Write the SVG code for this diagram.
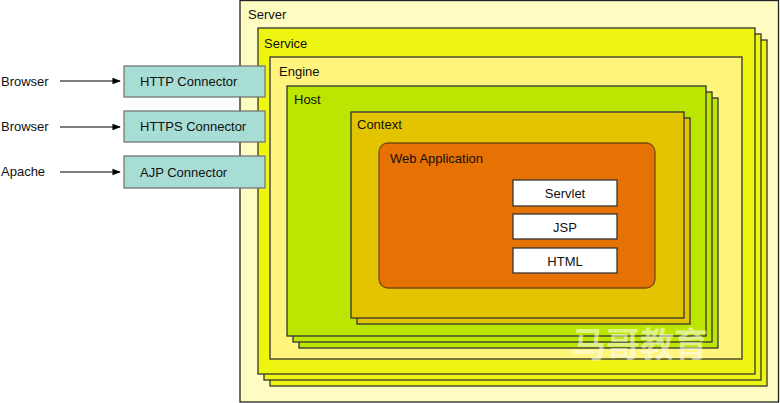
<svg xmlns="http://www.w3.org/2000/svg" width="780" height="403" viewBox="0 0 780 403">
<defs>
<style>
text{font-family:"Liberation Sans",Arial,sans-serif;font-size:13px;fill:#111}
.b{stroke:#333;stroke-width:1.3}
.conn rect{fill:#a8ddd5;stroke:#777;stroke-width:1.3}
.w{fill:#fff;stroke:#333;stroke-width:1.3}
.c{text-anchor:middle}
</style>
<marker id="ar" viewBox="0 0 10 10" refX="9" refY="5" markerWidth="7" markerHeight="7" orient="auto"><path d="M0,1 L10,5 L0,9 z" fill="#000"/></marker>
</defs>
<g id="server"><rect x="240" y="0.5" width="538.5" height="401.5" fill="#fffcc2" stroke="#222" stroke-width="1.3"/><text x="248" y="19">Server</text></g>
<g id="service">
<rect class="b" x="270" y="40" width="497" height="346" fill="#eef511"/>
<rect class="b" x="264" y="34" width="497" height="346" fill="#eef511"/>
<rect class="b" x="258" y="28" width="497" height="346" fill="#eef511"/>
<text x="264" y="48">Service</text></g>
<g id="engine"><rect class="b" x="270" y="57" width="472" height="302" fill="#fff47c"/><text x="279" y="76">Engine</text></g>
<g id="host">
<rect class="b" x="299" y="98" width="419" height="250" fill="#bde502"/>
<rect class="b" x="293" y="92" width="419" height="250" fill="#bde502"/>
<rect class="b" x="287" y="86" width="419" height="250" fill="#bde502"/>
<text x="294" y="104">Host</text></g>
<g id="context">
<rect class="b" x="357" y="118" width="333" height="206" fill="#e3c400"/>
<rect class="b" x="351" y="112" width="333" height="206" fill="#e3c400"/>
<text x="357" y="129">Context</text></g>
<g id="webapp"><rect x="379" y="143" width="276" height="145" rx="9" fill="#e57203" stroke="#7a4a10" stroke-width="1.3"/><text x="390" y="163">Web Application</text></g>
<g id="servlet"><rect class="w" x="513" y="180" width="104" height="26"/><text class="c" x="565" y="198">Servlet</text></g>
<g id="jsp"><rect class="w" x="513" y="214" width="104" height="25"/><text class="c" x="565" y="232">JSP</text></g>
<g id="html"><rect class="w" x="513" y="248" width="104" height="25"/><text class="c" x="565" y="266">HTML</text></g>
<g id="http" class="conn"><rect x="124" y="66" width="141" height="31"/><text x="140" y="86">HTTP Connector</text></g>
<g id="https" class="conn"><rect x="124" y="111" width="141" height="31"/><text x="140" y="131">HTTPS Connector</text></g>
<g id="ajp" class="conn"><rect x="124" y="156" width="141" height="32"/><text x="140" y="177">AJP Connector</text></g>
<g id="clients"><text x="1" y="86">Browser</text><text x="1" y="131">Browser</text><text x="1" y="176">Apache</text></g>
<g id="connectors" stroke="#000" stroke-width="1.2" marker-end="url(#ar)">
<line x1="60" y1="81" x2="120" y2="81"/>
<line x1="60" y1="127" x2="120" y2="127"/>
<line x1="60" y1="172" x2="120" y2="172"/>
</g>
<text x="640" y="357" style="font-family:'Noto Sans CJK SC',sans-serif;font-size:34px;font-weight:bold;fill:#fff;fill-opacity:0.55;text-anchor:middle">马哥教育</text>
</svg>
